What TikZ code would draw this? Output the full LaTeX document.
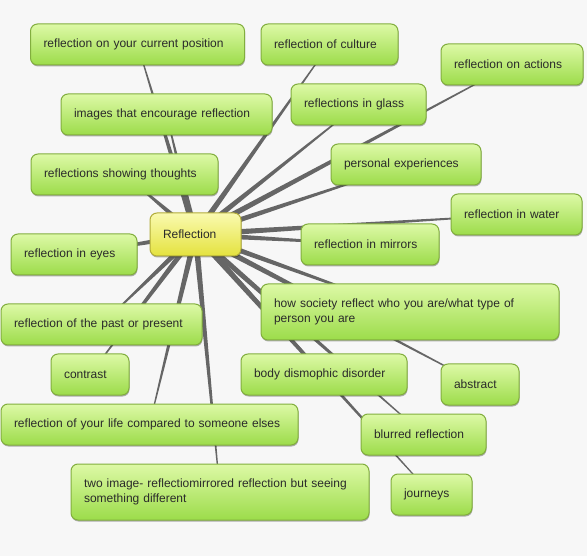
\documentclass[tikz,border=0pt]{standalone}
\usepackage{fontspec}
\setmainfont{Liberation Sans}
\usetikzlibrary{calc,shadows}
\definecolor{paper}{HTML}{F7F7F7}
\definecolor{boxtop}{HTML}{DDF9A6}
\definecolor{boxbot}{HTML}{9CDC4A}
\definecolor{boxline}{HTML}{82AE3E}
\definecolor{hubtop}{HTML}{FAFAB0}
\definecolor{hubbot}{HTML}{E4E23E}
\definecolor{hubline}{HTML}{B2AC3A}
\definecolor{spokecol}{HTML}{666666}
\definecolor{ink}{HTML}{2A2A2A}
\pgfdeclarelayer{bg}
\pgfsetlayers{bg,main}

\begin{document}
\begin{tikzpicture}[x=1pt,y=-1pt,font=\fontsize{12}{15}\selectfont,
 box/.style={rounded corners=7pt,draw=boxline,line width=1pt,top color=boxtop,bottom color=boxbot,
  minimum height=41pt,inner xsep=13pt,align=left,text=ink,
  drop shadow={shadow xshift=.5pt,shadow yshift=-1.5pt,opacity=.3,fill=black}},
 hub/.style={box,top color=hubtop,bottom color=hubbot,draw=hubline,minimum height=43pt},
 spoke/.style={fill=spokecol}]
 \useasboundingbox (0,0) rectangle (587,556);
 \node[hub,text width=65pt] (refl) at (195.5,234.5) {Reflection};
 \node[box,text width=188pt] (position) at (137.5,44.5) {reflection on your current position};
 \node[box,text width=111pt] (culture) at (329.5,44.5) {reflection of culture};
 \node[box,text width=116pt] (actions) at (512,64.5) {reflection on actions};
 \node[box,text width=185pt] (images) at (166.5,114.5) {images that encourage reflection};
 \node[box,text width=109pt] (glass) at (358.5,104.5) {reflections in glass};
 \node[box,text width=161pt] (thoughts) at (124.5,174.5) {reflections showing thoughts};
 \node[box,text width=124pt] (personal) at (406,164.5) {personal experiences};
 \node[box,text width=105pt] (water) at (516.5,214.5) {reflection in water};
 \node[box,text width=112pt] (mirrors) at (370,244.5) {reflection in mirrors};
 \node[box,text width=100pt] (eyes) at (74,254.5) {reflection in eyes};
 \node[box,text width=175pt] (past) at (101.5,324.5) {reflection of the past or present};
 \node[box,text width=272pt,minimum height=56pt] (society) at (410,312)
  {how society reflect who you are/what type of\\person you are};
 \node[box,text width=52pt] (contrast) at (90,374.5) {contrast};
 \node[box,text width=140pt] (body) at (324,374.5) {body dismophic disorder};
 \node[box,text width=52pt] (abstract) at (480,384.5) {abstract};
 \node[box,text width=271pt] (life) at (149.5,424.5) {reflection of your life compared to someone elses};
 \node[box,text width=99pt] (blurred) at (423.5,434.5) {blurred reflection};
 \node[box,text width=272pt,minimum height=56pt] (twoimage) at (220,492)
  {two image- reflectiomirrored reflection but seeing\\something different};
 \node[box,text width=55pt] (journeys) at (431.5,494.5) {journeys};
 \begin{pgfonlayer}{bg}
  \fill[paper] (0,0) rectangle (587,556);
  % tapered spokes from the hub
  \foreach \n in {position,culture,actions,images,glass,thoughts,personal,water,mirrors,eyes,
   past,society,contrast,body,abstract,life,blurred,twoimage,journeys}
   \fill[spoke] ($(refl.center)!3pt!90:(\n.center)$) -- ($(\n.center)!.4pt!-90:(refl.center)$)
    -- ($(\n.center)!.4pt!90:(refl.center)$) -- ($(refl.center)!3pt!-90:(\n.center)$) -- cycle;
 \end{pgfonlayer}
\end{tikzpicture}
\end{document}
